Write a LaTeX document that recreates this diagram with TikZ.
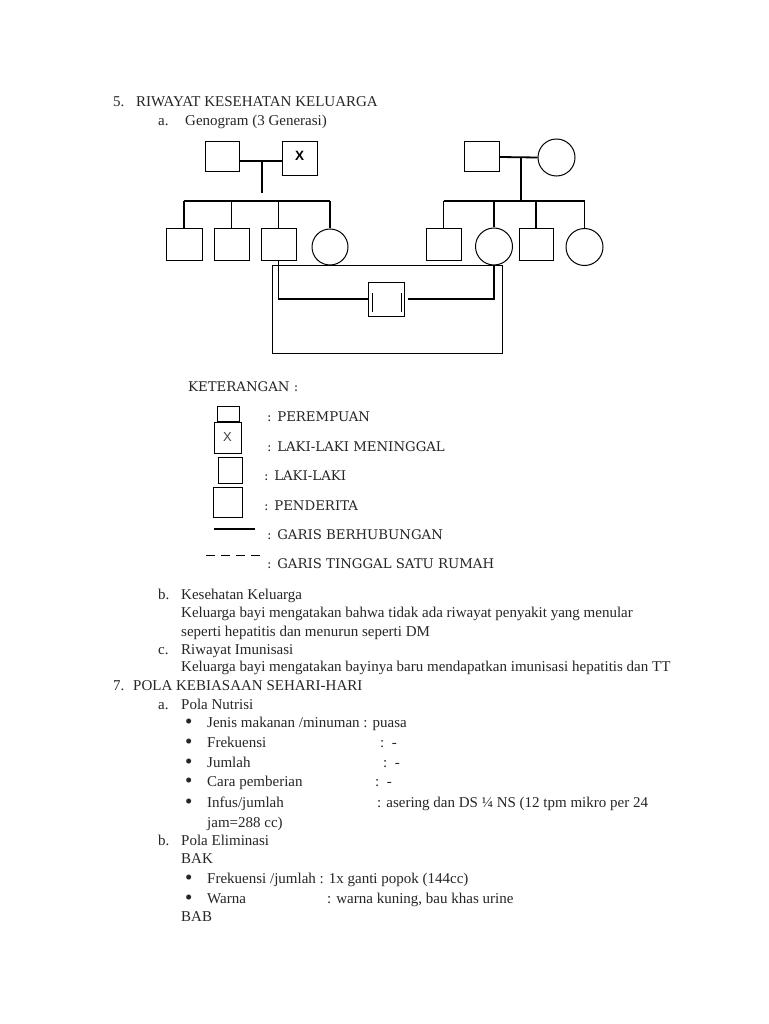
\documentclass[tikz,border=0pt]{standalone}
\usepackage{fontspec}
\setmainfont{Liberation Serif}
\newfontfamily\keyfont{DejaVu Serif}
\newfontfamily\markfont{Liberation Sans}
\usetikzlibrary{positioning}

\begin{document}
\begin{tikzpicture}[x=1pt, y=-1pt,
    male/.style={draw, line width=1pt, minimum width=35pt, minimum height=31pt, inner sep=0pt},
    female/.style={draw, line width=1pt, circle, minimum size=37pt, inner sep=0pt},
    link/.style={line width=1.8pt},
    txt/.style={anchor=base west, inner sep=0pt, font=\fontsize{15}{18}\selectfont, text=black!85},
    keytxt/.style={anchor=base west, inner sep=0pt, font=\keyfont\fontsize{13.3}{16}\selectfont, text=black!85}]

    % Page
    \useasboundingbox[fill=white] (0,0) rectangle (768,1024);

    % Heading
    \node[txt] (n5) at (113,107) {5.};
    \node[txt] (h5) at (136,107) {RIWAYAT KESEHATAN KELUARGA};
    \node[txt] (na) at (158,126) {a.};
    \node[txt] (ha) at (185,126) {Genogram (3 Generasi)};

    % Generation 1
    \node[male, minimum width=34pt, minimum height=30pt] (gpa1) at (222,157) {};
    \node[male, minimum height=34pt, font=\markfont\bfseries\fontsize{13.5}{13.5}\selectfont] (gpa2) at (299.5,159) {\raisebox{6pt}{X}};
    \node[male, minimum height=30pt] (gpa3) at (481.5,157) {};
    \node[female] (gma) at (556.5,157.5) {};

    % Generation 2
    \node[male, minimum width=36pt] (c1) at (184,244.5) {};
    \node[male] (c2) at (231.5,244.5) {};
    \node[male] (c3) at (278.5,244.5) {};
    \node[female, minimum size=36pt] (c4) at (330,247) {};
    \node[male] (c5) at (443.5,244.5) {};
    \node[female] (c6) at (494,246.5) {};
    \node[male, minimum width=34pt] (c7) at (536,244.5) {};
    \node[female] (c8) at (584.5,247) {};

    % Patient
    \node[male, minimum width=36pt, minimum height=34pt] (pat) at (386,299) {};
    \draw[line width=1pt] ([shift={(5pt,5pt)}]pat.south west) -- ([shift={(5pt,-11pt)}]pat.north west);
    \draw[line width=1pt] ([shift={(-3pt,5pt)}]pat.south east) -- ([shift={(-3pt,-11pt)}]pat.north east);

    % Marriage and sibling lines
    \coordinate (m1) at (262,161);
    \coordinate (d1) at (262,193);
    \coordinate (sib1) at (0,201);
    \draw[link] (gpa1.east |- m1) -- (gpa2.west |- m1);
    \draw[link] (m1) -- (d1);
    \draw[link] (c1.north |- sib1) -- (c4.north |- sib1);
    \foreach \c in {c1,c2,c3,c4}
        \draw[link] (\c.north) -- (\c.north |- sib1);

    \coordinate (m2) at (521,157);
    \coordinate (sib2) at (0,201);
    \draw[link] (gpa3.east) -- (gma.west);
    \draw[link] (m2) -- (m2 |- sib2);
    \draw[link] (c5.north |- sib2) -- (c8.north |- sib2);
    \foreach \c in {c5,c6,c7,c8}
        \draw[link] (\c.north) -- (\c.north |- sib2);

    % Parents of the patient
    \draw[link] (c3.south) |- (pat.west);
    \draw[link] (c6.south) |- ([xshift=3pt]pat.east);

    % Household
    \draw[line width=1pt] (272,265) rectangle (502,353);

    % Legend
    \node[keytxt] (ket) at (188,391) {KETERANGAN :};
    \node[draw, line width=1pt, minimum width=22pt, minimum height=15pt, inner sep=0pt] (kA) at (228,413.5) {};
    \node[draw, line width=1pt, minimum width=27pt, minimum height=31pt, inner sep=0pt, font=\markfont\fontsize{13}{13}\selectfont, text=black!75] (kB) at (227.5,437.5) {\raisebox{0.5pt}{X}};
    \node[draw, line width=1pt, minimum width=24pt, minimum height=26pt, inner sep=0pt] (kC) at (230,470) {};
    \node[draw, line width=1pt, minimum width=29pt, minimum height=30pt, inner sep=0pt] (kD) at (227.5,502) {};
    \coordinate (kE1) at (214,529);
    \coordinate (kE2) at (255,529);
    \draw[line width=1.8pt] (kE1) -- (kE2);
    \coordinate (kF1) at (206,555);
    \coordinate (kF2) at (260,555);
    \draw[line width=1pt, dash pattern=on 9pt off 6pt] (kF1) -- (kF2);

    \node[keytxt] (lA) at (267,421) {: PEREMPUAN};
    \node[keytxt] (lB) at (267,451) {: LAKI-LAKI MENINGGAL};
    \node[keytxt] (lC) at (264,480) {: LAKI-LAKI};
    \node[keytxt] (lD) at (264,510) {: PENDERITA};
    \node[keytxt] (lE) at (267,539) {: GARIS BERHUBUNGAN};
    \node[keytxt] (lF) at (267,568) {: GARIS TINGGAL SATU RUMAH};

    % Body text
    \node[txt] (nb) at (158,599) {b.};
    \node[txt] (hb) at (181,599) {Kesehatan Keluarga};
    \node[txt] (tb1) at (181,617) {Keluarga bayi mengatakan bahwa tidak ada riwayat penyakit yang menular};
    \node[txt] (tb2) at (181,636) {seperti hepatitis dan menurun seperti DM};
    \node[txt] (nc) at (158,654) {c.};
    \node[txt] (hc) at (181,654) {Riwayat Imunisasi};
    \node[txt] (tc1) at (181,671) {Keluarga bayi mengatakan bayinya baru mendapatkan imunisasi hepatitis dan TT};
    \node[txt] (n7) at (113,690) {7.};
    \node[txt] (h7) at (133,690) {POLA KEBIASAAN SEHARI-HARI};
    \node[txt] (n7a) at (158,709) {a.};
    \node[txt] (h7a) at (181,709) {Pola Nutrisi};

    \foreach \y in {727,747,767,786,807,883,903}
        \node[txt, font=\fontsize{21}{21}\selectfont] at (185,\y+1.5) {•};
    \node[txt] (p1) at (207,727) {Jenis makanan /minuman : puasa};
    \node[txt] (p2) at (207,747) {Frekuensi};
    \node[txt] (v2) at (380,747) {:\ \ -};
    \node[txt] (p3) at (207,767) {Jumlah};
    \node[txt] (v3) at (383,767) {:\ \ -};
    \node[txt] (p4) at (207,786) {Cara pemberian};
    \node[txt] (v4) at (375,786) {:\ \ -};
    \node[txt] (p5) at (207,807) {Infus/jumlah};
    \node[txt] (v5) at (377,807) {: asering dan DS ¼ NS (12 tpm mikro per 24};
    \node[txt] (p5b) at (207,827) {jam=288 cc)};
    \node[txt] (n7b) at (158,845) {b.};
    \node[txt] (h7b) at (181,845) {Pola Eliminasi};
    \node[txt] (bak) at (181,863) {BAK};
    \node[txt] (q1) at (207,883) {Frekuensi /jumlah : 1x ganti popok (144cc)};
    \node[txt] (q2) at (207,903) {Warna};
    \node[txt] (w2) at (327,903) {: warna kuning, bau khas urine};
    \node[txt] (bab) at (181,921) {BAB};
\end{tikzpicture}
\end{document}
